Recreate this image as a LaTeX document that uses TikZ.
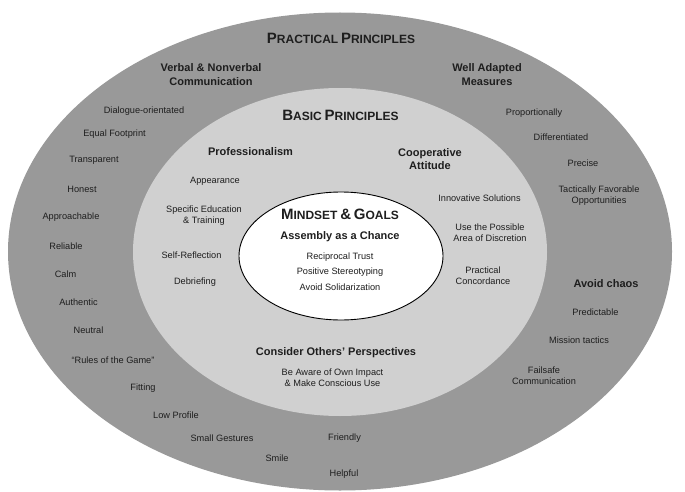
\documentclass[tikz,border=0pt]{standalone}
\usepackage{fontspec}
\setmainfont{Liberation Sans}
\definecolor{outergray}{HTML}{999999}
\definecolor{midgray}{HTML}{D0D0D0}
\definecolor{txt}{HTML}{1E1E1E}
\newcommand{\bigsc}[1]{{\fontsize{15}{15}\selectfont #1}}
\newcommand{\smsc}[1]{{\fontsize{12}{12}\selectfont #1}}
\begin{document}
\begin{tikzpicture}[x=1pt,y=-1pt,
  lbl/.style={font=\fontsize{9.2}{10.8}\selectfont, text=txt, align=center, inner sep=0pt},
  hdg/.style={font=\fontsize{11}{13.5}\selectfont\bfseries, text=txt, align=center, inner sep=0pt},
  ttl/.style={font=\bfseries, text=txt, inner sep=0pt},
  ]
\useasboundingbox (0,0) rectangle (685,492);
% rings
\fill[outergray] (340,251.5) ellipse [x radius=332pt, y radius=239pt];
\fill[midgray] (340,252) ellipse [x radius=207pt, y radius=164pt];
\draw[fill=white, line width=0.9pt] (341,256) ellipse [x radius=102pt, y radius=64pt];

% practical principles
\node[ttl] (pp) at (341,38) {\bigsc{P}\smsc{RACTICAL} \bigsc{P}\smsc{RINCIPLES}};
\node[hdg] (vnc) at (211,74.5) {Verbal \& Nonverbal\\Communication};
\node[hdg] (wam) at (487,74.5) {Well Adapted\\Measures};
\node[hdg] (ac) at (606,284) {Avoid chaos};

\node[lbl] (l1) at (144,111) {Dialogue-orientated};
\node[lbl] (l2) at (114.5,134) {Equal Footprint};
\node[lbl] (l3) at (94,160.5) {Transparent};
\node[lbl] (l4) at (82,189) {Honest};
\node[lbl] (l5) at (71,217) {Approachable};
\node[lbl] (l6) at (66,246.5) {Reliable};
\node[lbl] (l7) at (65.5,274) {Calm};
\node[lbl] (l8) at (78.5,302) {Authentic};
\node[lbl] (l9) at (88.5,330) {Neutral};
\node[lbl] (l10) at (113,360) {“Rules of the Game”};
\node[lbl] (l11) at (143,388) {Fitting};
\node[lbl] (l12) at (176,415) {Low Profile};
\node[lbl] (l13) at (222,438) {Small Gestures};
\node[lbl] (l14) at (277,458) {Smile};
\node[lbl] (l15) at (344.5,438) {Friendly};
\node[lbl] (l16) at (344,474) {Helpful};

\node[lbl] (r1) at (534,113) {Proportionally};
\node[lbl] (r2) at (561,137) {Differentiated};
\node[lbl] (r3) at (583,163) {Precise};
\node[lbl] (r4) at (599,196) {Tactically Favorable\\Opportunities};
\node[lbl] (r5) at (595.5,312) {Predictable};
\node[lbl] (r6) at (579,340) {Mission tactics};
\node[lbl] (r7) at (544,375.5) {Failsafe\\Communication};

% basic principles
\node[ttl] (bp) at (340.5,115) {\bigsc{B}\smsc{ASIC} \bigsc{P}\smsc{RINCIPLES}};
\node[hdg] (prof) at (250.5,152) {Professionalism};
\node[hdg] (coop) at (430,159) {Cooperative\\Attitude};
\node[hdg] (cop) at (336,353) {Consider Others’ Perspectives};

\node[lbl] (b1) at (215,181) {Appearance};
\node[lbl] (b2) at (204,215.5) {Specific Education\\\& Training};
\node[lbl] (b3) at (191.5,255) {Self-Reflection};
\node[lbl] (b4) at (195,282) {Debriefing};
\node[lbl] (b5) at (479.5,198) {Innovative Solutions};
\node[lbl] (b6) at (490,232.5) {Use the Possible\\Area of Discretion};
\node[lbl] (b7) at (483,275.5) {Practical\\Concordance};
\node[lbl] (b8) at (332.5,378) {Be Aware of Own Impact\\\& Make Conscious Use};

% mindset & goals
\node[ttl] (mg) at (340,214) {\bigsc{M}\smsc{INDSET} \bigsc{\&} \bigsc{G}\smsc{OALS}};
\node[hdg] (aac) at (340,237) {Assembly as a Chance};
\node[lbl] (m1) at (340,257) {Reciprocal Trust};
\node[lbl] (m2) at (340,272) {Positive Stereotyping};
\node[lbl] (m3) at (340,287) {Avoid Solidarization};
\end{tikzpicture}
\end{document}
